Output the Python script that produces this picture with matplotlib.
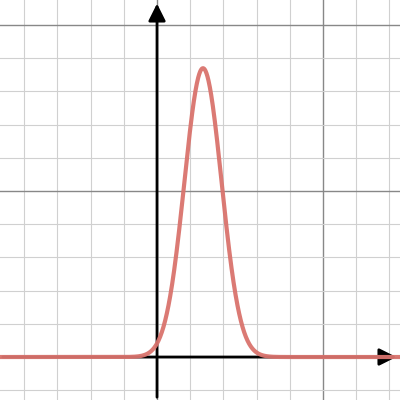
import numpy as np
import matplotlib.pyplot as plt

# Gaussian bump (graph units, 1 major grid = 1)
PEAK_X = 0.277
PEAK_Y = 1.74
SIGMA = 0.112

X_RANGE = (-0.946, 1.464)
Y_RANGE = (-0.259, 2.151)

fig = plt.figure(figsize=(4, 4), dpi=100)
ax = fig.add_axes([0, 0, 1, 1])
ax.set_xlim(*X_RANGE)
ax.set_ylim(*Y_RANGE)
ax.axis('off')

# grid
for v in np.arange(-1, 2.01, 0.2):
    major = abs(v - round(v)) < 1e-6
    ax.axvline(v, color='#888888' if major else '#d0d0d0', lw=1.0 if major else 0.8, zorder=0)
for v in np.arange(-0.4, 2.41, 0.2):
    major = abs(v - round(v)) < 1e-6
    ax.axhline(v, color='#888888' if major else '#d0d0d0', lw=1.0 if major else 0.8, zorder=0)

# axes with arrows
ax.annotate('', xy=(X_RANGE[1] - 0.005, 0), xytext=(X_RANGE[0], 0),
            arrowprops=dict(arrowstyle='-|>', color='black', lw=2, mutation_scale=26), zorder=2)
ax.annotate('', xy=(0, Y_RANGE[1] - 0.005), xytext=(0, Y_RANGE[0]),
            arrowprops=dict(arrowstyle='-|>', color='black', lw=2, mutation_scale=26), zorder=2)

x = np.linspace(X_RANGE[0], X_RANGE[1], 1200)
y = PEAK_Y * np.exp(-(x - PEAK_X) ** 2 / (2 * SIGMA ** 2))
ax.plot(x, y, color='#d9736d', lw=3, alpha=0.95, zorder=3, solid_capstyle='round')

fig.savefig('out.png', dpi=100)
